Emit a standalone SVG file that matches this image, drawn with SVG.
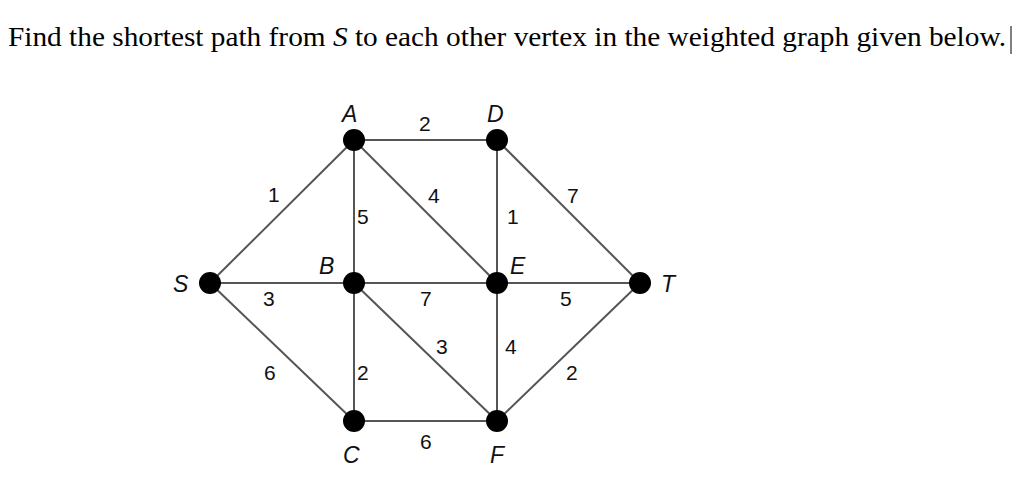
<svg xmlns="http://www.w3.org/2000/svg" width="1024" height="491" viewBox="0 0 1024 491">
<style>
.t{font-family:"Liberation Serif",serif;font-size:27px;fill:#000}
.e line{stroke:#555;stroke-width:2}
.n{fill:#000}
.l{font-family:"Liberation Sans",Arial,sans-serif;font-size:21px;fill:#111}
.v{font-family:"Liberation Sans",Arial,sans-serif;font-size:23px;font-style:italic;fill:#111}
</style>
<rect width="1024" height="491" fill="#fff"/>
<text class="t" x="8" y="46" textLength="998" lengthAdjust="spacingAndGlyphs">Find the shortest path from <tspan font-style="italic">S</tspan> to each other vertex in the weighted graph given below.</text>
<line x1="1011" y1="26" x2="1011" y2="54" stroke="#000" stroke-width="1"/>
<g id="edges" class="e">
<line x1="210" y1="283" x2="354" y2="140"/>
<line x1="210" y1="283" x2="354" y2="283"/>
<line x1="210" y1="283" x2="354" y2="421"/>
<line x1="354" y1="140" x2="497" y2="140"/>
<line x1="354" y1="140" x2="354" y2="421"/>
<line x1="354" y1="140" x2="497" y2="283"/>
<line x1="354" y1="283" x2="640" y2="283"/>
<line x1="354" y1="283" x2="497" y2="421"/>
<line x1="354" y1="421" x2="497" y2="421"/>
<line x1="497" y1="140" x2="497" y2="421"/>
<line x1="497" y1="140" x2="640" y2="283"/>
<line x1="497" y1="421" x2="640" y2="283"/>
</g>
<g id="S"><circle class="n" cx="210" cy="283" r="11"/><text class="v" x="173" y="292">S</text></g>
<g id="A"><circle class="n" cx="354" cy="140" r="11"/><text class="v" x="342" y="122">A</text></g>
<g id="D"><circle class="n" cx="497" cy="140" r="11"/><text class="v" x="487" y="122">D</text></g>
<g id="B"><circle class="n" cx="354" cy="283" r="11"/><text class="v" x="319" y="274">B</text></g>
<g id="E"><circle class="n" cx="497" cy="283" r="11"/><text class="v" x="510" y="274">E</text></g>
<g id="T"><circle class="n" cx="640" cy="283" r="11"/><text class="v" x="661" y="292">T</text></g>
<g id="C"><circle class="n" cx="354" cy="421" r="11"/><text class="v" x="343" y="463">C</text></g>
<g id="F"><circle class="n" cx="497" cy="421" r="11"/><text class="v" x="490" y="463">F</text></g>
<g id="labels">
<text class="l" x="419" y="131">2</text>
<text class="l" x="268" y="202">1</text>
<text class="l" x="357" y="224">5</text>
<text class="l" x="428" y="203">4</text>
<text class="l" x="507" y="224">1</text>
<text class="l" x="567" y="203">7</text>
<text class="l" x="263" y="306">3</text>
<text class="l" x="420" y="306">7</text>
<text class="l" x="560" y="306">5</text>
<text class="l" x="264" y="380">6</text>
<text class="l" x="357" y="380">2</text>
<text class="l" x="436" y="354">3</text>
<text class="l" x="505" y="354">4</text>
<text class="l" x="566" y="380">2</text>
<text class="l" x="420" y="449">6</text>
</g>
</svg>
